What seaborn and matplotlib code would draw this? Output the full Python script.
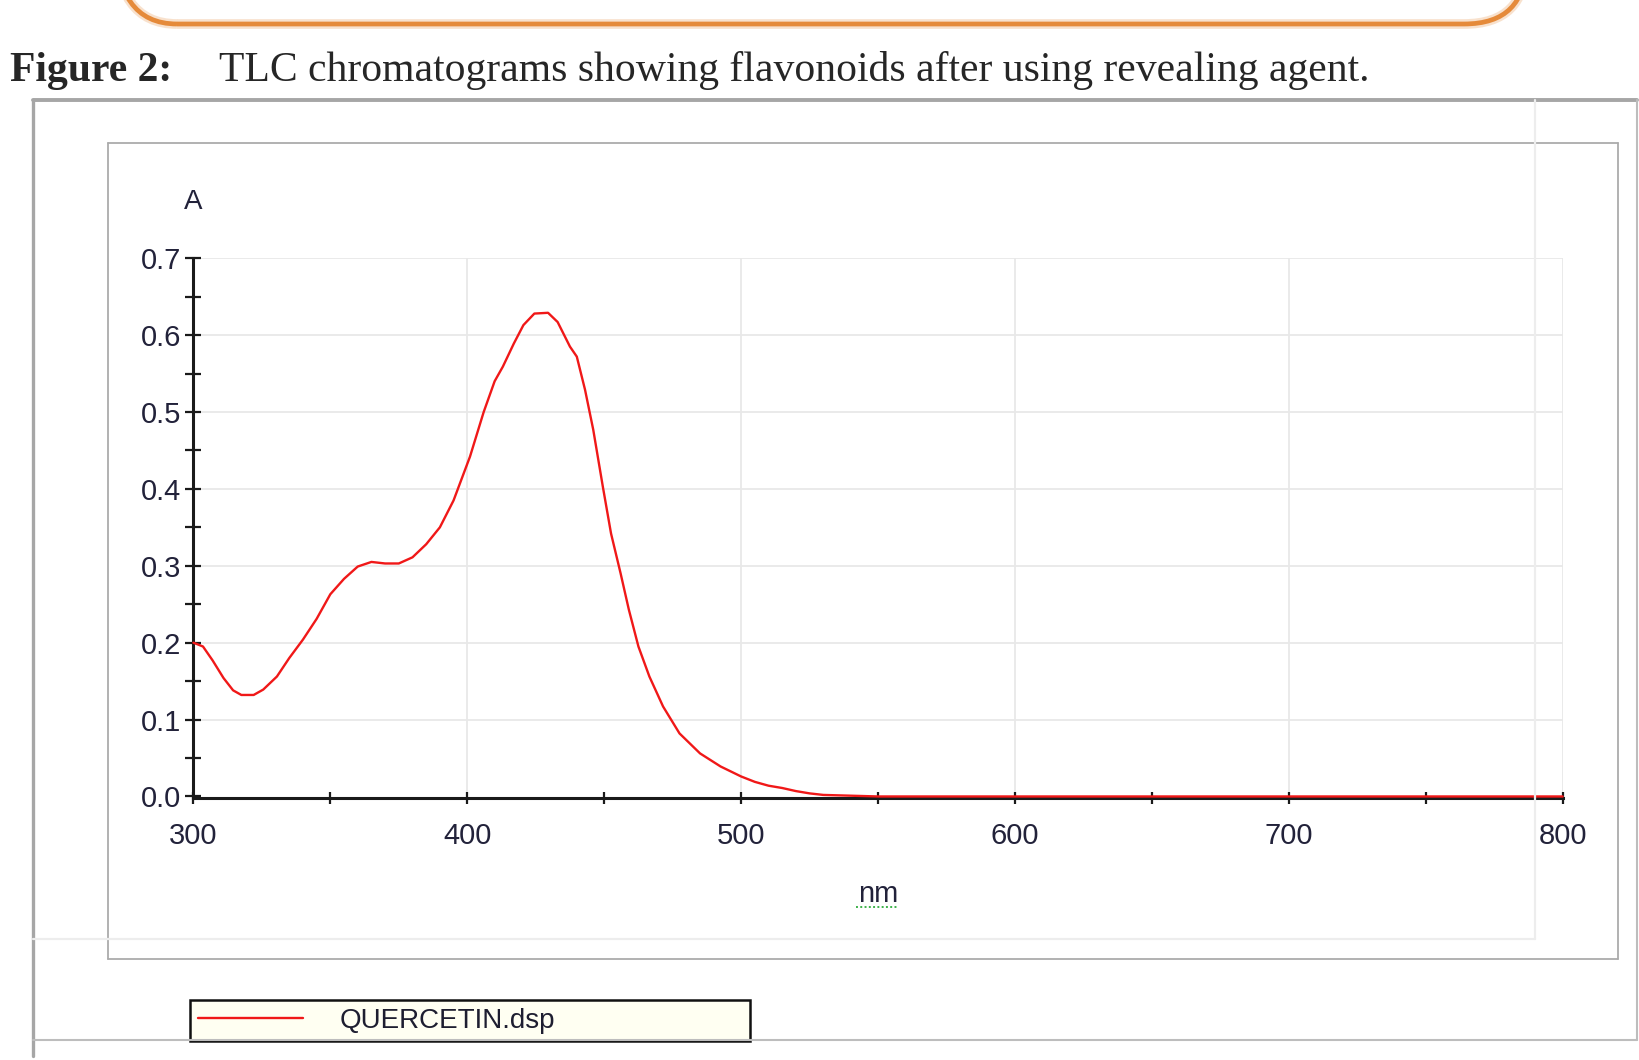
import numpy as np
import pandas as pd
import matplotlib
import matplotlib.pyplot as plt
import seaborn as sns
from matplotlib.patches import FancyBboxPatch
from matplotlib.lines import Line2D
from matplotlib.transforms import IdentityTransform

matplotlib.use('Agg')

# --- data (wavelength in nm, absorbance A) ---
wavelength = [300, 303.5, 307, 311, 314.5, 317.5, 322, 325.5, 330.5, 335, 340, 345, 350,
              355, 360, 365, 370, 375, 380, 385, 390, 395, 401, 406, 410, 413, 417, 420.5,
              424.5, 429.5, 433, 437.5, 440, 443, 446, 449.5, 452.5, 456, 459, 462.5,
              466.5, 471.5, 477.5, 485, 492.5, 500, 505, 510, 515, 520, 525, 530, 540,
              550, 600, 650, 700, 750, 800]
absorbance = [0.200, 0.195, 0.177, 0.154, 0.138, 0.132, 0.132, 0.139, 0.156, 0.180, 0.204,
              0.231, 0.263, 0.283, 0.299, 0.305, 0.303, 0.303, 0.311, 0.328, 0.350, 0.385,
              0.442, 0.500, 0.540, 0.559, 0.589, 0.613, 0.628, 0.629, 0.617, 0.585, 0.572,
              0.529, 0.477, 0.403, 0.342, 0.290, 0.243, 0.195, 0.156, 0.117, 0.082, 0.056,
              0.039, 0.026, 0.019, 0.014, 0.011, 0.007, 0.004, 0.002, 0.001, 0.0, 0.0, 0.0,
              0.0, 0.0, 0.0]
series_name = 'QUERCETIN.dsp'

x_ticks_major = [300, 400, 500, 600, 700, 800]
x_ticks_minor = [350, 450, 550, 650, 750]
y_ticks_major = [0.0, 0.1, 0.2, 0.3, 0.4, 0.5, 0.6, 0.7]
y_ticks_minor = [0.05, 0.15, 0.25, 0.35, 0.45, 0.55, 0.65]

caption_bold = 'Figure 2:'
caption_text = 'TLC chromatograms showing flavonoids after using revealing agent.'

W, H = 1639, 1060

sns.set_style('white')
plt.rcParams['font.family'] = ['Liberation Sans', 'DejaVu Sans']

fig = plt.figure(figsize=(W / 100, H / 100), dpi=100)
fig.patch.set_facecolor('white')


def fx(x):
    return x / W


def fy(y):
    return 1 - y / H


def px_line(x0, y0, x1, y1, **kw):
    fig.add_artist(Line2D([fx(x0), fx(x1)], [fy(y0), fy(y1)], transform=fig.transFigure, **kw))


# orange rounded box peeking in at the top
for lw, a in [(7, 0.25), (3.4, 1.0)]:
    fig.add_artist(FancyBboxPatch((115, H - 24), 1411, 150,
                                  boxstyle='round,pad=0,rounding_size=62',
                                  transform=IdentityTransform(), facecolor='none',
                                  edgecolor='#E58A3A', lw=lw, alpha=a))

# caption
fig.text(fx(10), fy(81), caption_bold, family=['Liberation Serif', 'DejaVu Serif'],
         weight='bold', fontsize=30, va='baseline', ha='left')
fig.text(fx(219), fy(81), caption_text, family=['Liberation Serif', 'DejaVu Serif'],
         fontsize=30, va='baseline', ha='left')

# screenshot frames
frame_grey = '#A6A6A6'
px_line(33, 100, 1637, 100, color=frame_grey, lw=2.8)
px_line(33, 100, 33, 1056, color=frame_grey, lw=2.4)
px_line(1637, 100, 1637, 1040, color='#BDBDBD', lw=1.5)
px_line(33, 1040, 1637, 1040, color='#BDBDBD', lw=1.5)
px_line(108, 143, 1618, 143, color='#ABABAB', lw=1.3)
px_line(108, 143, 108, 959, color='#ABABAB', lw=1.3)
px_line(1618, 143, 1618, 959, color='#ABABAB', lw=1.3)
px_line(108, 959, 1618, 959, color='#ABABAB', lw=1.3)
px_line(33, 939, 1535, 939, color='#EDEDED', lw=1.6)
px_line(1535, 100, 1535, 939, color='#EDEDED', lw=1.6)

# plot area
left, right = 193.4, 1562.7
top, bottom = 258.2, 798.0
ax = fig.add_axes([fx(left), fy(bottom), fx(right - left), (bottom - top) / H])
ax.set_facecolor('none')

df = pd.DataFrame({'nm': wavelength, 'A': absorbance})
sns.lineplot(data=df, x='nm', y='A', ax=ax, color='#F01818', lw=1.7,
             label=series_name, zorder=5, clip_on=False)

ax.set_xlim(300, 800)
ax.set_ylim(-0.002, 0.7)

ax.set_xticks(x_ticks_major)
ax.set_xticks(x_ticks_minor, minor=True)
ax.set_yticks(y_ticks_major)
ax.set_yticks(y_ticks_minor, minor=True)
ax.set_yticklabels([f'{v:.1f}' for v in y_ticks_major])

for v in x_ticks_major[1:]:
    ax.axvline(v, color='#E8E8E8', lw=1.3, zorder=0)
for v in y_ticks_major[1:]:
    ax.axhline(v, color='#E8E8E8', lw=1.3, zorder=0)

for s in ['top', 'right']:
    ax.spines[s].set_visible(False)
for s in ['left', 'bottom']:
    ax.spines[s].set_color('#1A1A1A')
    ax.spines[s].set_linewidth(2.2)
    ax.spines[s].set_zorder(4)

ax.tick_params(axis='x', which='both', direction='inout', length=9, width=1.6,
               color='#1A1A1A', labelsize=21, labelcolor='#22223A', pad=13, bottom=True)
ax.tick_params(axis='y', which='both', direction='inout', length=11, width=1.6,
               color='#1A1A1A', labelsize=21, labelcolor='#22223A', pad=3, left=True)

ax.set_xlabel('nm', fontsize=21, color='#22223A', va='center')
ax.xaxis.set_label_coords(0.5, (bottom - 894) / (bottom - top))
ax.set_ylabel('A', fontsize=20, color='#22223A', rotation=0, va='center', ha='center')
ax.yaxis.set_label_coords(0.0, (bottom - 202) / (bottom - top))

# spell-check squiggle under "nm"
px_line(856, 907, 897, 907, color='#3DB24A', lw=1.4, ls=(0, (1, 1.2)))

# legend box below the plot
leg = ax.legend(loc='center left', bbox_to_anchor=(fx(190), fy(1042), fx(560), 43 / H),
                bbox_transform=fig.transFigure, mode='expand', borderaxespad=0,
                borderpad=0.28, handlelength=3.8, handletextpad=1.3, fontsize=20,
                fancybox=False, framealpha=1, facecolor='#FFFFF2', edgecolor='#111111')
leg.get_frame().set_linewidth(1.8)
for t in leg.get_texts():
    t.set_color('#1E1E30')

fig.savefig('out.png', dpi=100)
plt.close(fig)
